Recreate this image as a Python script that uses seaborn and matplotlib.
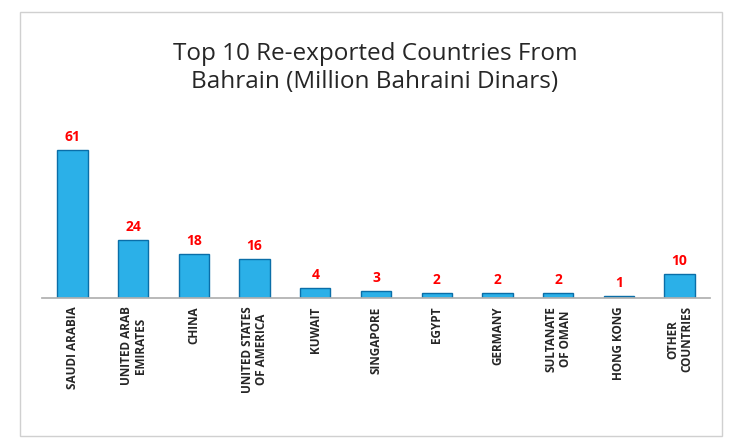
import matplotlib
matplotlib.use("Agg")
import matplotlib.pyplot as plt
import seaborn as sns
import pandas as pd
from matplotlib.patches import Rectangle

countries = ["SAUDI ARABIA", "UNITED ARAB\nEMIRATES", "CHINA", "UNITED STATES\nOF AMERICA",
             "KUWAIT", "SINGAPORE", "EGYPT", "GERMANY", "SULTANATE\nOF OMAN", "HONG KONG",
             "OTHER\nCOUNTRIES"]
values = [61, 24, 18, 16, 4, 3, 2, 2, 2, 1, 10]

sns.set_theme(style="white")
plt.rcParams['font.family'] = ['Open Sans', 'DejaVu Sans']
df = pd.DataFrame({"country": countries, "value": values})

fig = plt.figure(figsize=(7.5, 4.45), dpi=100)
fig.patches.append(Rectangle((20/750, 1-436/445), 702/750, 424/445, transform=fig.transFigure,
                             fill=False, edgecolor="#d0d0d0", linewidth=1))
ax = fig.add_axes([42/750, 1-298/445, 668/750, 168/445])
sns.barplot(data=df, x="country", y="value", ax=ax, color="#2BB0E8", width=0.5,
            edgecolor="#0A6EA8", linewidth=1, saturation=1)
ax.set_xlim(-0.5, 10.5)
ax.set_ylim(0, 61 * 168 / 148)
for i, v in enumerate(values):
    ax.text(i, v + 2.5, str(v), ha="center", va="bottom", color="red", fontsize=10, fontweight="bold")
ax.set_yticks([])
ax.set_xlabel("")
ax.set_ylabel("")
for s in ["top", "right", "left"]:
    ax.spines[s].set_visible(False)
ax.spines["bottom"].set_color("#b0b0b0")
ax.tick_params(axis="x", length=0, pad=6)
ax.set_xticks(range(len(countries)))
ax.set_xticklabels(countries, rotation=90, fontsize=8.5, fontweight="bold", linespacing=1.1)
fig.text(375/750, 1-68/445, "Top 10 Re-exported Countries From\nBahrain (Million Bahraini Dinars)",
         ha="center", va="center", fontsize=17.5, linespacing=1.25)
fig.savefig("out.png", dpi=100)
